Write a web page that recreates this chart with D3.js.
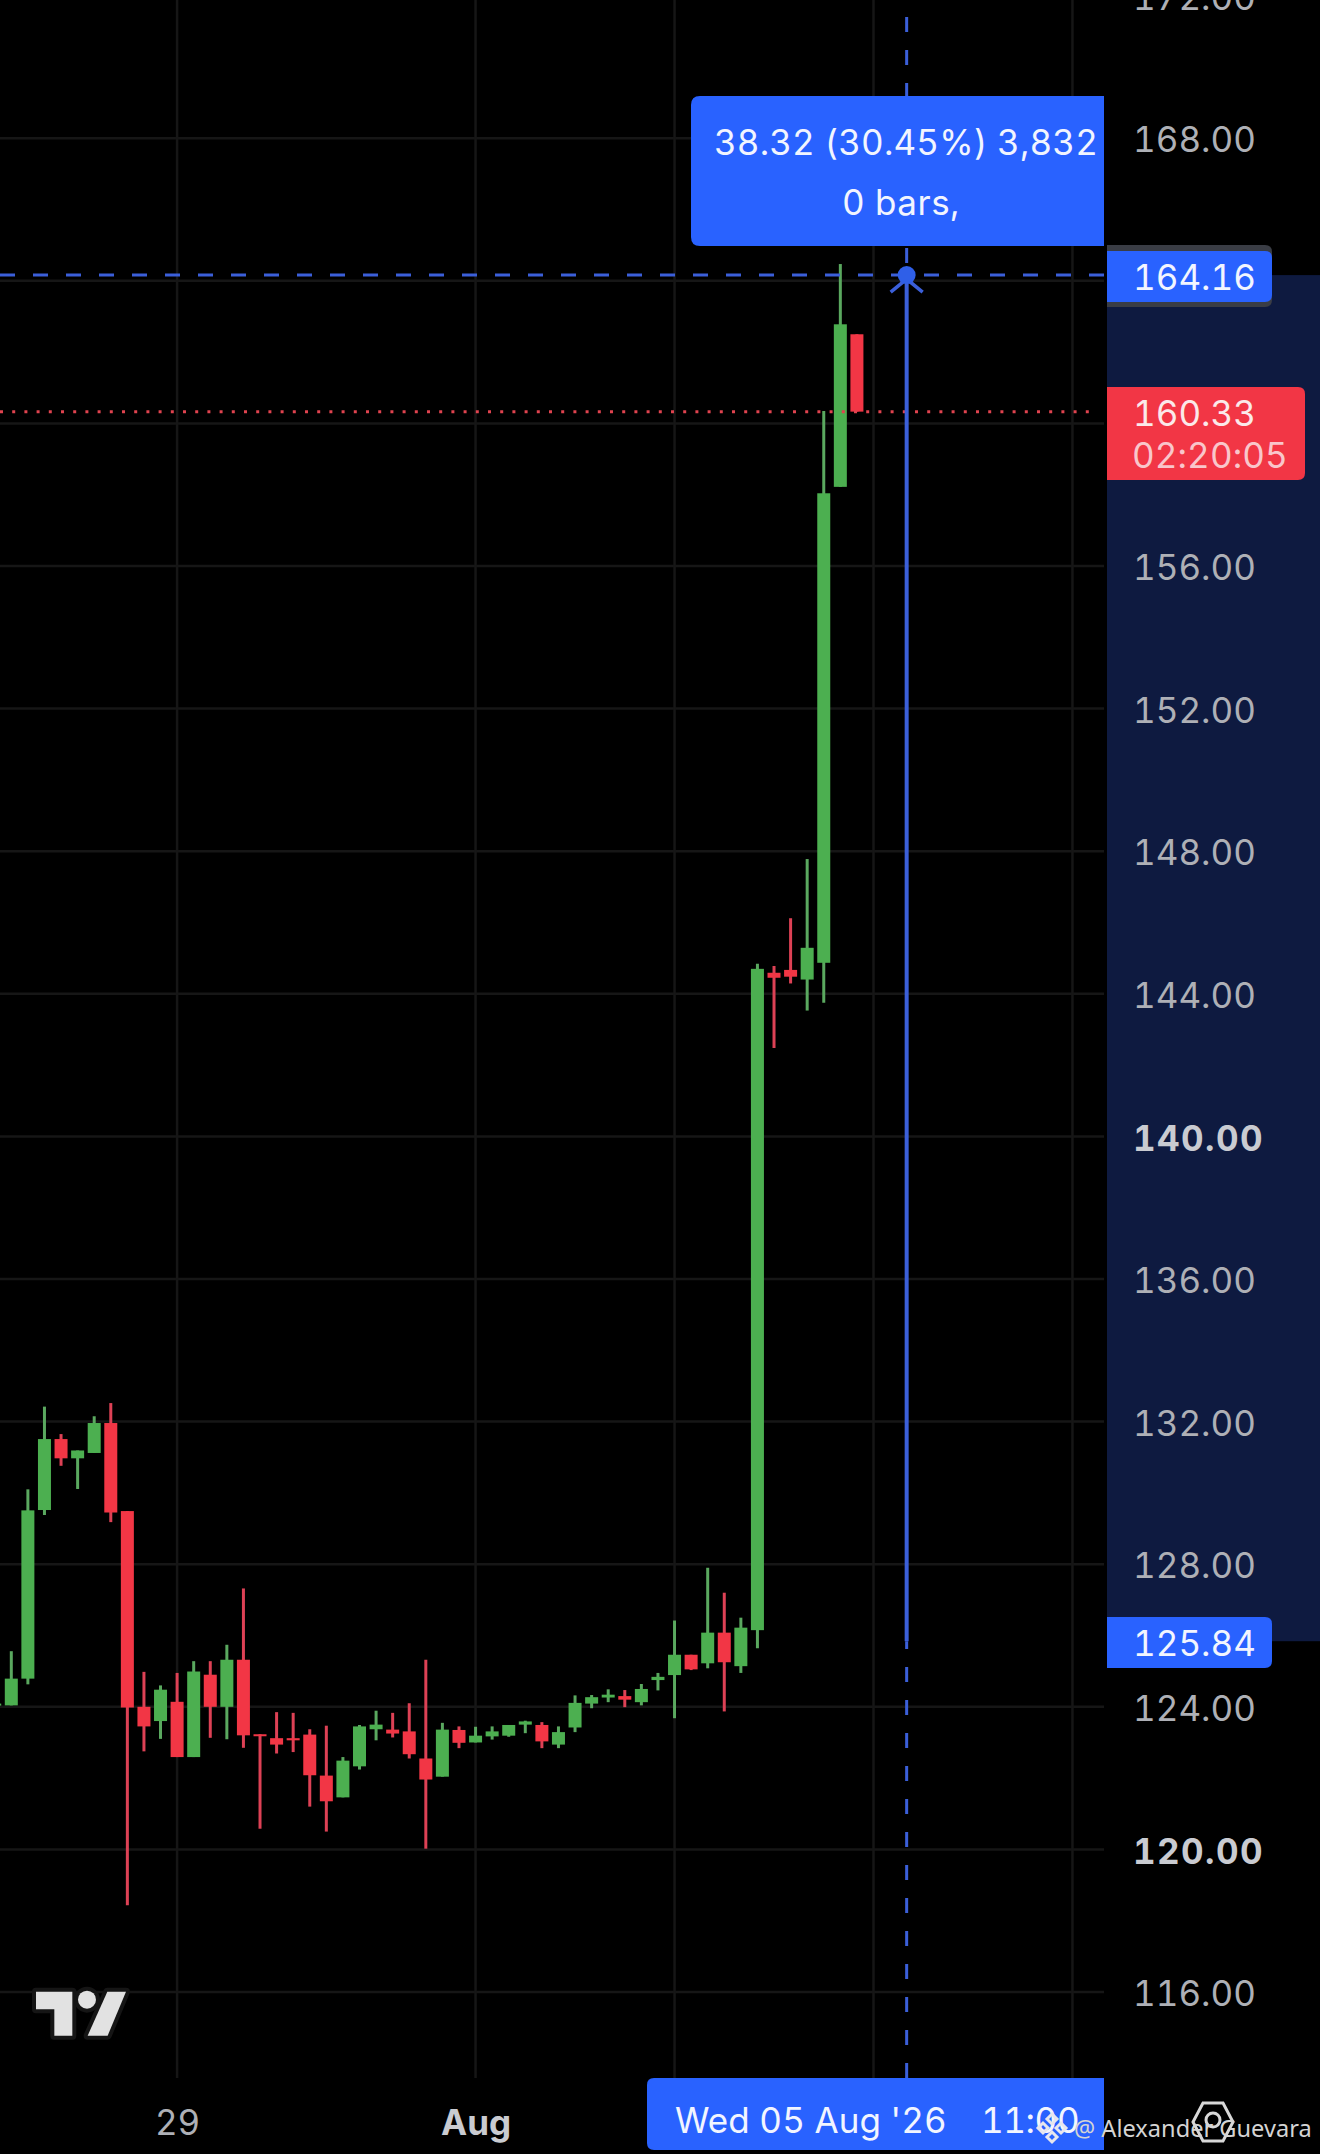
<!DOCTYPE html>
<html>
<head>
<meta charset="utf-8">
<script src="https://cdn.jsdelivr.net/npm/d3@7"></script>
<style>
html, body { margin: 0; padding: 0; background: #000; }
svg { display: block; }
text { font-family: Inter, "Noto Sans", sans-serif; font-variant-numeric: tabular-nums; }
</style>
</head>
<body>
<svg id="chart"></svg>
<script>
// candles, first one is only just on the picture
var firstBar = -1;
var opens = [124.04,124.04,124.79,129.52,131.51,130.97,131.12,131.96,129.49,124.00,123.60,124.14,122.59,124.90,124.00,125.32,123.23,123.12,123.12,123.22,122.07,121.46,122.33,123.37,123.36,123.31,122.55,122.04,123.35,123.00,123.17,123.19,123.50,123.49,122.94,123.42,124.09,124.26,124.30,124.13,124.75,124.89,125.46,125.22,126.08,125.14,126.15,144.59,144.67,144.40,144.87,158.22,162.50];
var closes = [124.09,124.79,129.51,131.51,130.97,131.19,131.96,129.45,123.98,123.45,124.48,122.59,124.99,124.00,125.32,123.20,123.18,122.94,123.06,122.08,121.35,122.49,123.45,123.50,123.25,122.67,121.96,123.36,122.99,123.19,123.31,123.49,123.59,123.03,123.29,124.11,124.27,124.34,124.20,124.50,124.84,125.46,125.05,126.08,125.25,126.22,144.70,144.45,144.48,145.29,158.04,162.78,160.33];
var highs = [124.09,125.56,130.10,132.42,131.65,131.19,132.15,132.52,129.49,124.98,124.60,124.95,125.28,125.28,125.74,127.32,123.23,123.85,123.83,123.37,123.47,122.59,123.49,123.89,123.83,124.10,125.32,123.55,123.45,123.44,123.45,123.49,123.61,123.57,123.45,124.32,124.33,124.49,124.47,124.64,124.95,126.42,125.46,127.90,127.20,126.50,144.84,144.78,146.12,147.78,160.35,164.47,162.50];
var lows = [124.04,124.04,124.63,129.38,130.76,130.11,131.12,129.18,118.43,122.75,123.10,122.59,122.59,123.13,123.09,122.85,120.58,122.69,122.73,121.20,120.50,121.46,122.24,123.06,123.14,122.55,120.02,122.04,122.84,123.00,123.08,123.16,123.26,122.84,122.84,123.29,123.96,124.13,123.99,124.04,124.46,123.68,125.03,125.08,123.87,124.95,125.64,142.48,144.29,143.53,143.75,158.22,160.33];

// price axis
var priceTicks = [172,168,164,160,156,152,148,144,140,136,132,128,124,120,116];
var hiddenPriceLabels = [164,160];
var boldPriceLabels = [140,120];

// time axis, bar numbers where the vertical grid sits
var timeTicks = [10,28,40,52,64];
var timeLabels = ["29","Aug","","",""];

// measure tool
var measureBar = 54;
var measureFrom = 125.84;
var measureTo = 164.16;
var lastPrice = 160.33;
var measureText = ["38.32 (30.45%) 3,832", "0 bars,"];
var crossDate = "Wed 05 Aug '26";
var crossTime = "11:00";
var countdown = "02:20:05";
var creditText = "@ Alexander Guevara";

var green = "#4caf50", red = "#f23645", blue = "#2962ff", dashBlue = "#3b5fd9";
var chartRight = 1104, axisLeft = 1107, timeTop = 2078;
var labelSize = 35, labelGap = 0;

var svg = d3.select("#chart").attr("width",1320).attr("height",2154);

var xScale = d3.scaleLinear().domain([0,52]).range([11.3,873.5]);
var yScale = d3.scaleLinear().domain([116,172]).range([1992,-4.4]);

svg.append("rect").attr("width",1320).attr("height",2154).attr("fill","#000");

// grid
var grid = svg.append("g").attr("stroke","#161616").attr("stroke-width",2.5);
grid.selectAll(".h").data(priceTicks).enter().append("line")
  .attr("x1",0).attr("x2",chartRight)
  .attr("y1",function(d){return yScale(d)})
  .attr("y2",function(d){return yScale(d)});
grid.selectAll(".v").data(timeTicks).enter().append("line")
  .attr("y1",0).attr("y2",timeTop)
  .attr("x1",function(d){return xScale(d)})
  .attr("x2",function(d){return xScale(d)});

// band on the price axis
svg.append("rect")
  .attr("x",axisLeft).attr("width",1320-axisLeft)
  .attr("y",yScale(measureTo))
  .attr("height",yScale(measureFrom)-yScale(measureTo))
  .attr("fill","#0e1a40");

// price labels
var yAxis = d3.axisRight(yScale)
  .tickValues(priceTicks.filter(function(d){return hiddenPriceLabels.indexOf(d)<0}))
  .tickSize(0)
  .tickPadding(0)
  .tickFormat(d3.format(".2f"));
var yG = svg.append("g").attr("transform","translate(1133,2.5)").call(yAxis);
yG.select(".domain").remove();
yG.selectAll("text")
  .attr("font-size",labelSize)
  .attr("letter-spacing",function(d){return boldPriceLabels.indexOf(d)>=0 ? 1.4 : labelGap})
  .attr("font-weight",function(d){return boldPriceLabels.indexOf(d)>=0 ? 700 : 400})
  .attr("fill",function(d){return boldPriceLabels.indexOf(d)>=0 ? "#c9cbd1" : "#aeb0b6"})
  .style("font-family","Inter");

// time labels
var xAxis = d3.axisBottom(xScale)
  .tickValues(timeTicks.slice(0,2))
  .tickSize(0)
  .tickPadding(0)
  .tickFormat(function(d,i){return timeLabels[i]});
var xG = svg.append("g").attr("transform","translate(0,2110)").call(xAxis);
xG.select(".domain").remove();
xG.selectAll("text")
  .attr("y",25)
  .attr("dy",0)
  .attr("font-size",labelSize)
  .attr("font-weight",function(d,i){return i==1 ? 700 : 400})
  .attr("fill",function(d,i){return i==1 ? "#c9cbd1" : "#aeb0b6"})
  .style("font-family","Inter");

// candles
var bars = d3.range(opens.length).map(function(i){
  return {bar:firstBar+i, open:opens[i], close:closes[i], high:highs[i], low:lows[i]};
});
var barWidth = 13;
var candle = svg.append("g").selectAll("g").data(bars).enter().append("g");
candle.append("line")
  .attr("x1",function(d){return xScale(d.bar)})
  .attr("x2",function(d){return xScale(d.bar)})
  .attr("y1",function(d){return yScale(d.high)})
  .attr("y2",function(d){return yScale(d.low)})
  .attr("stroke-width",3)
  .attr("stroke",function(d){return d.close>=d.open ? "#5aa85f" : "#dd4155"});
candle.append("rect")
  .attr("x",function(d){return xScale(d.bar)-barWidth/2})
  .attr("width",barWidth)
  .attr("y",function(d){return yScale(Math.max(d.open,d.close))})
  .attr("height",function(d){return Math.max(2,Math.abs(yScale(d.open)-yScale(d.close)))})
  .attr("fill",function(d){return d.close>=d.open ? green : red});

// last price dots
svg.append("line")
  .attr("x1",0).attr("x2",1098)
  .attr("y1",yScale(lastPrice)).attr("y2",yScale(lastPrice))
  .attr("stroke","#e0434f").attr("stroke-width",3)
  .attr("stroke-dasharray","3 9.2");

// measure lines
var mx = xScale(measureBar);
var topY = yScale(measureTo), bottomY = yScale(measureFrom);
svg.append("line")
  .attr("x1",0).attr("x2",chartRight).attr("y1",topY).attr("y2",topY)
  .attr("stroke",dashBlue).attr("stroke-width",3).attr("stroke-dasharray","15 18");
svg.append("line")
  .attr("x1",mx).attr("x2",mx).attr("y1",17).attr("y2",topY)
  .attr("stroke",dashBlue).attr("stroke-width",3).attr("stroke-dasharray","15 18");
svg.append("line")
  .attr("x1",mx).attr("x2",mx).attr("y1",topY).attr("y2",bottomY)
  .attr("stroke",dashBlue).attr("stroke-width",4);
svg.append("line")
  .attr("x1",mx).attr("x2",mx).attr("y1",timeTop).attr("y2",bottomY)
  .attr("stroke",dashBlue).attr("stroke-width",3).attr("stroke-dasharray","15 18");
svg.append("path")
  .attr("d","M"+(mx-16)+","+(topY+17)+"L"+mx+","+(topY+4)+"L"+(mx+16)+","+(topY+17))
  .attr("fill","none").attr("stroke",dashBlue).attr("stroke-width",3.5);
svg.append("circle").attr("cx",mx).attr("cy",topY).attr("r",9).attr("fill","#2f5fe8");

// rounded on the left only / right only
function leftTag(x,y,w,h,r){
  return "M"+(x+r)+","+y+"H"+(x+w)+"V"+(y+h)+"H"+(x+r)+"Q"+x+","+(y+h)+" "+x+","+(y+h-r)+"V"+(y+r)+"Q"+x+","+y+" "+(x+r)+","+y+"Z";
}
function rightTag(x,y,w,h,r){
  return "M"+x+","+y+"H"+(x+w-r)+"Q"+(x+w)+","+y+" "+(x+w)+","+(y+r)+"V"+(y+h-r)+"Q"+(x+w)+","+(y+h)+" "+(x+w-r)+","+(y+h)+"H"+x+"Z";
}

// measure box
svg.append("path").attr("d",leftTag(691,96,chartRight-691,150,9)).attr("fill",blue);
svg.append("text").attr("x",906).attr("y",155).attr("text-anchor","middle")
  .attr("font-size",labelSize).attr("letter-spacing",0.15).attr("fill","#f2f5ff").text(measureText[0]);
svg.append("text").attr("x",901).attr("y",215).attr("text-anchor","middle")
  .attr("font-size",labelSize).attr("letter-spacing",0.5).attr("fill","#f2f5ff").text(measureText[1]);

// price tags
svg.append("path").attr("d",rightTag(axisLeft,245,165,62,7)).attr("fill","#3a3d45");
svg.append("path").attr("d",rightTag(axisLeft,251,165,51,7)).attr("fill",blue);
svg.append("text").attr("x",1133).attr("y",290).attr("font-size",labelSize).attr("letter-spacing",labelGap)
  .attr("fill","#f2f5ff").text(d3.format(".2f")(measureTo));

svg.append("path").attr("d",rightTag(axisLeft,387,198,93,7)).attr("fill",red);
svg.append("text").attr("x",1133).attr("y",426).attr("font-size",labelSize).attr("letter-spacing",labelGap)
  .attr("fill","#fbe9ea").text(d3.format(".2f")(lastPrice));
svg.append("text").attr("x",1132).attr("y",468).attr("font-size",labelSize).attr("letter-spacing",0.1)
  .attr("fill","#f9c6cb").text(countdown);

svg.append("path").attr("d",rightTag(axisLeft,1617,165,51,7)).attr("fill",blue);
svg.append("text").attr("x",1133).attr("y",1656).attr("font-size",labelSize).attr("letter-spacing",labelGap)
  .attr("fill","#f2f5ff").text(d3.format(".2f")(measureFrom));

// date tag
svg.append("path").attr("d",leftTag(647,timeTop,chartRight-647,72,7)).attr("fill",blue);
svg.append("text").attr("x",675).attr("y",2133).attr("font-size",labelSize).attr("letter-spacing",0.1)
  .attr("fill","#f2f5ff").text(crossDate);
svg.append("text").attr("x",981).attr("y",2133).attr("font-size",labelSize).attr("letter-spacing",-0.4)
  .attr("fill","#f2f5ff").text(crossTime);

// tradingview logo
var logo = svg.append("g").attr("transform","translate(20,1970) scale(0.3333)")
  .attr("fill","#e2e2e2").attr("stroke","#151515").attr("stroke-width",24)
  .attr("paint-order","stroke").attr("stroke-linejoin","round");
logo.append("path").attr("d","M48,65H157V197H103V118H48Z");
logo.append("circle").attr("cx",201).attr("cy",89).attr("r",27);
logo.append("path").attr("d","M262,65H318L263,197H203Z");

// credit on top of everything
var mark = svg.append("g").attr("transform","translate(1052,2128)")
  .attr("fill","none").attr("stroke","#e6e6ee").attr("stroke-width",3);
[[0,-9],[-9,0],[9,0],[0,9]].forEach(function(c){
  mark.append("path").attr("d","M"+c[0]+","+(c[1]-5)+"l5,5l-5,5l-5,-5Z");
});
var hex = svg.append("g").attr("transform","translate(1213,2122)")
  .attr("fill","none").attr("stroke","#d8d8d8").attr("stroke-width",3);
hex.append("path").attr("d","M-10,-19H10L20,0L10,19H-10L-20,0Z");
hex.append("circle").attr("cy",-2).attr("r",7);
svg.append("text").attr("x",1074).attr("y",2137)
  .attr("font-size",23.6).attr("fill","#d4d4d4")
  .style("font-family","'Noto Sans'").text(creditText);
</script>
</body>
</html>
